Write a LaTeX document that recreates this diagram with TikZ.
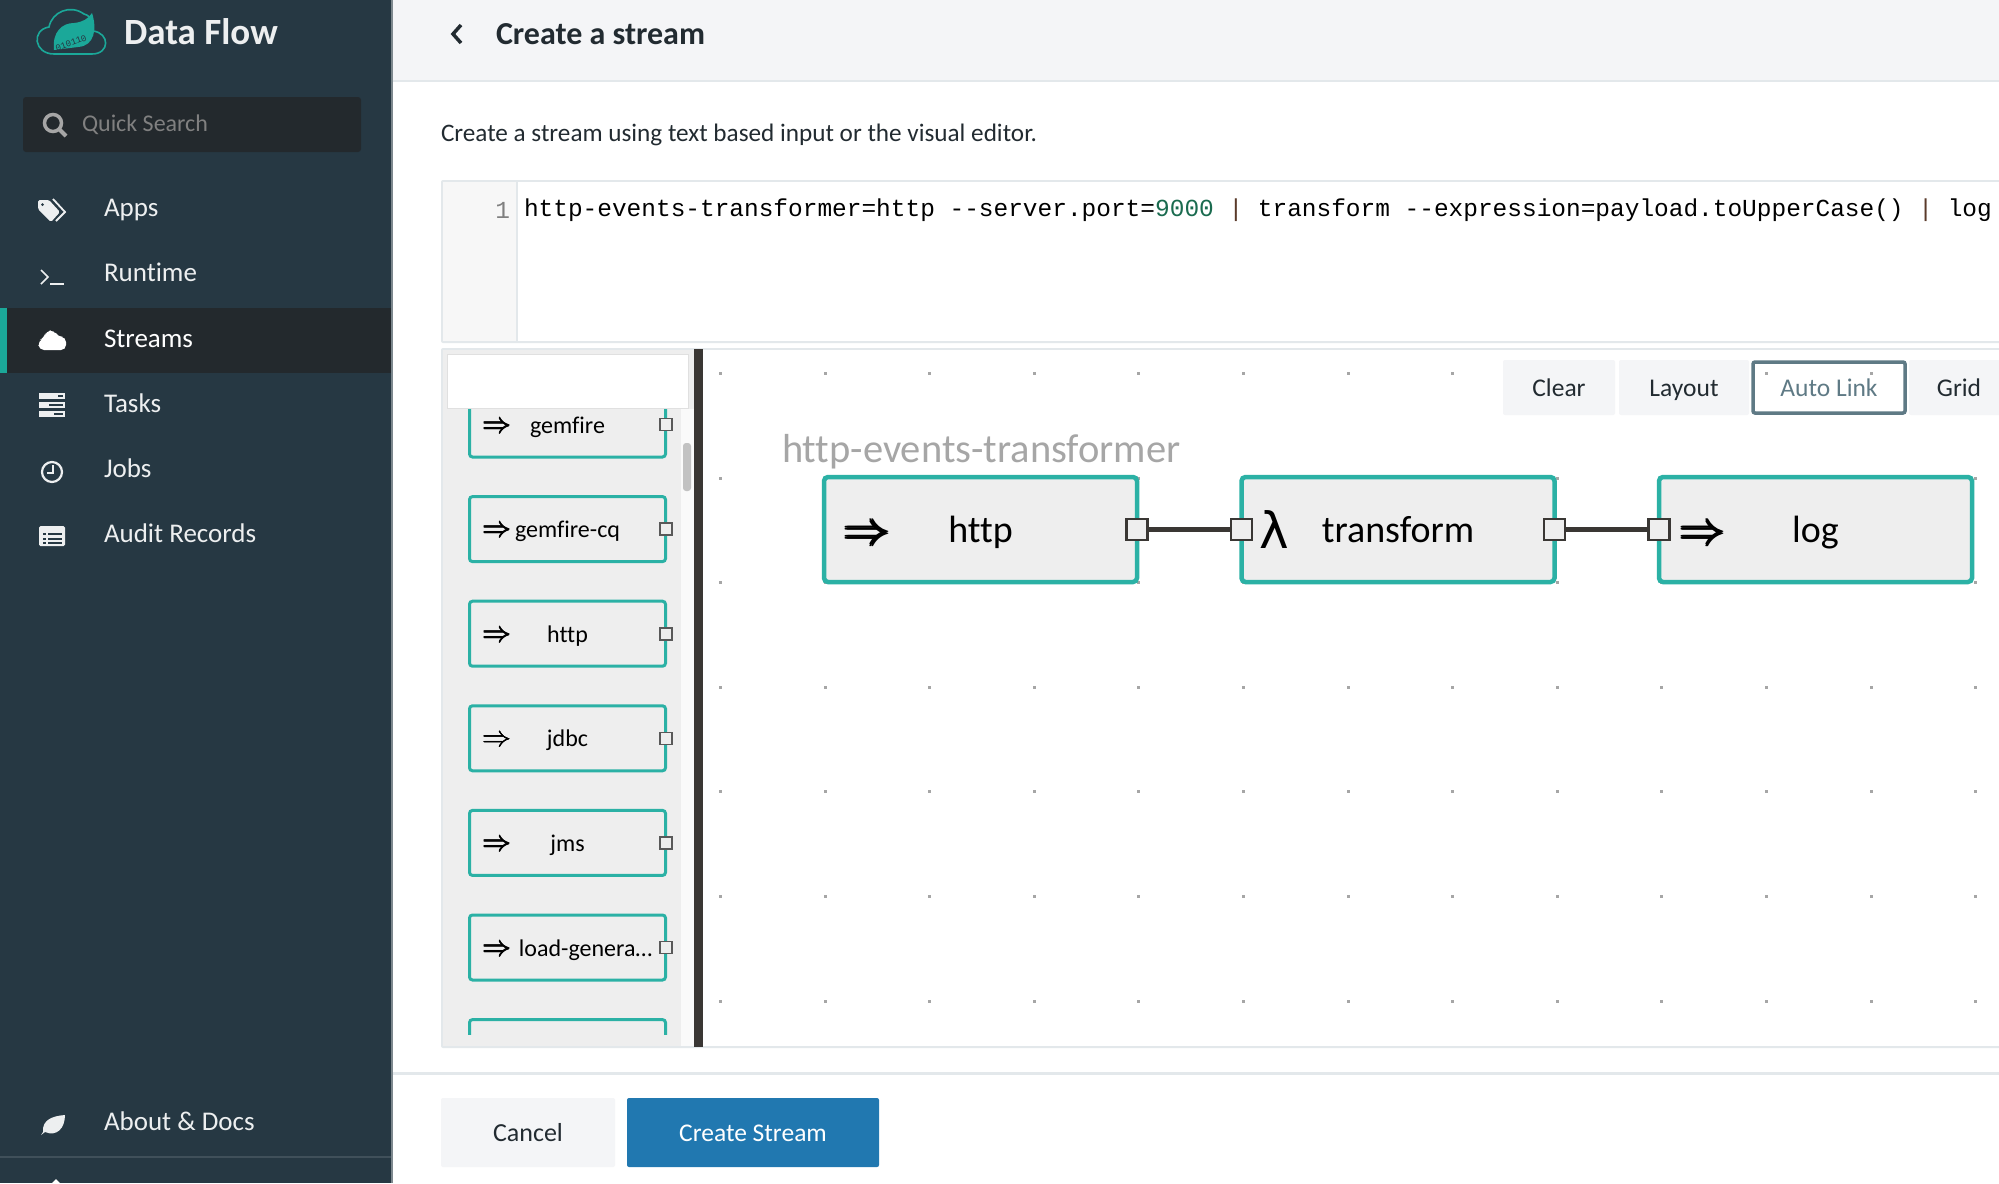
\documentclass[tikz,border=0pt]{standalone}
\usepackage{fontspec}
\setmainfont{Carlito}[Ligatures=NoCommon]
\setmonofont{Liberation Mono}
\newfontfamily\lambdafont{DejaVu Sans}
\usetikzlibrary{positioning}
\definecolor{sidebar}{HTML}{263843}
\definecolor{sidedark}{HTML}{23292D}
\definecolor{teal}{HTML}{2BB1A5}
\definecolor{logoteal}{HTML}{1BA899}
\definecolor{paper}{HTML}{F4F5F7}
\definecolor{rule}{HTML}{E3E8EB}
\definecolor{panel}{HTML}{EEEEEE}
\definecolor{ink}{HTML}{222B31}
\definecolor{menuink}{HTML}{EDEFF0}
\definecolor{linkdark}{HTML}{3A3734}
\definecolor{slate}{HTML}{5F7A85}
\definecolor{bluebtn}{HTML}{2178B0}
\newcommand{\fsz}[1]{\fontsize{#1}{#1}\selectfont}
\newcommand{\thickarrow}{\rlap{\raisebox{.15pt}{$\Rightarrow$}}\rlap{\raisebox{-.15pt}{$\Rightarrow$}}\kern.3pt\rlap{\raisebox{.15pt}{$\Rightarrow$}}\raisebox{-.15pt}{$\Rightarrow$}}

\begin{document}
\begin{tikzpicture}[x=1pt,y=-1pt,
  every node/.style={outer sep=0pt,inner sep=0pt},
  menuitem/.style={anchor=west,text=menuink,font=\fsz{27},text height=22pt,text depth=5.4pt},
  iconfill/.style={fill=menuink,draw=none},
  toolbtn/.style={fill=paper,rounded corners=2pt,minimum height=55pt,text=ink,font=\fsz{25.5},text height=22pt,text depth=5pt},
  dragnode/.style={draw=teal,line width=3pt,fill=panel,rounded corners=3pt,minimum width=196pt,minimum height=65pt,font=\fsz{24},text=black,text height=22pt,text depth=5pt},
  flownode/.style={draw=teal,line width=4.5pt,fill=panel,rounded corners=4pt,minimum width=313pt,minimum height=105pt,font=\fsz{38},text=black,text height=34pt,text depth=7.4pt},
  dragport/.style={draw=black!65,line width=1.6pt,fill=panel,minimum size=12pt},
  flowport/.style={draw=linkdark,line width=2.2pt,fill=panel,minimum size=21pt},
  link/.style={draw=linkdark,line width=5pt},
  griddot/.style={fill=black!35,draw=none}]
  \useasboundingbox (0,0) rectangle (1999,1183);
  \fill[white] (0,0) rectangle (1999,1183);

  % sidebar
  \fill[sidebar] (0,0) rectangle (392,1183);
  \fill[sidedark] (0,308) rectangle (392,373);
  \fill[logoteal] (0,308) rectangle (7,373);
  \draw[white!12!sidebar,line width=1.5pt] (0,1157) -- (392,1157);

  % logo
  \draw[logoteal,line width=1.6pt] (54,54) .. controls (34,54) and (31,30) .. (49,27)
    .. controls (52,12) and (70,4) .. (84,14) .. controls (92,16) and (94,24) .. (93,31)
    .. controls (110,33) and (110,54) .. (92,54) -- cycle;
  \fill[logoteal] (54,50) .. controls (52,32) and (62,23) .. (74,23)
    .. controls (83,22) and (88,19) .. (92,13) .. controls (97,28) and (95,46) .. (78,47) -- cycle;
  \node[rotate=20,text=sidebar,font=\ttfamily\fsz{9}] (logobits) at (71,43) {010110};
  \node[anchor=west,text=menuink,font=\bfseries\fsz{37}] (brand) at (124,32) {Data Flow};

  % search box
  \node[fill=sidedark,rounded corners=3pt,minimum width=338pt,minimum height=55pt] (searchbox) at (192,124.5) {};
  \draw[black!35!white,line width=3.5pt] (53,123) circle (8.5pt);
  \draw[black!35!white,line width=4pt] (59.5,129.5) -- (66,136);
  \node[anchor=west,text=black!50!white,font=\fsz{24},text height=18pt,text depth=6pt] (searchtext) at (82,125.5) {Quick Search};

  % menu
  \node[menuitem] (apps) at (104,208) {Apps};
  \node[menuitem] (runtime) at (104,273) {Runtime};
  \node[menuitem,text=white] (streams) at (104,339) {Streams};
  \node[menuitem] (tasks) at (104,404) {Tasks};
  \node[menuitem] (jobs) at (104,469) {Jobs};
  \node[menuitem] (audit) at (104,534) {Audit Records};
  \node[menuitem] (about) at (104,1122) {About \& Docs};

  % menu icons
  \fill[iconfill,rounded corners=1.5pt] (38,200) -- (49,200) -- (60,212) -- (51,222) -- (38,209) -- cycle;
  \fill[sidebar] (42.5,204.5) circle (1.5pt);
  \draw[menuink,line width=1.8pt] (53,199) -- (65,212) -- (56,221);
  \draw[menuink,line width=1.5pt] (41,270) -- (48,277) -- (41,284);
  \draw[menuink,line width=1.5pt] (50,284) -- (64,284);
  \fill[white,rounded corners=5pt] (39,350) -- (66,350) -- (66,337) -- (58,337) -- (54,330) -- (46,331) -- (44,338) -- (38,341) -- cycle;
  \foreach \y in {396,405,414} {
    \fill[iconfill] (39,\y-3) rectangle (65,\y+3);
  }
  \fill[sidebar] (58,395) rectangle (63,397);
  \fill[sidebar] (49,404) rectangle (63,406);
  \fill[sidebar] (54,413) rectangle (63,415);
  \draw[menuink,line width=2.2pt] (52,472) circle (10pt);
  \draw[menuink,line width=1.8pt] (53,465) -- (53,473) -- (47,473);
  \fill[iconfill,rounded corners=1.5pt] (39,526) rectangle (65,546);
  \foreach \y in {534,538.5,543} {
    \fill[sidebar] (43,\y-1) rectangle (46,\y+1);
    \fill[sidebar] (48,\y-1) rectangle (62,\y+1);
  }
  \fill[iconfill] (43,1132) .. controls (42,1120) and (52,1116) .. (65,1115) .. controls (65,1128) and (57,1137) .. (45,1132) -- (41,1135) -- cycle;
  \fill[white] (52,1183) -- (56,1179) -- (60,1183) -- cycle;

  % header
  \fill[white!40!sidebar] (391,0) rectangle (392.5,1183);
  \fill[paper] (392.5,0) rectangle (1999,81);
  \draw[rule,line width=1.5pt] (392.5,81) -- (1999,81);
  \draw[ink,line width=3.5pt] (461,25) -- (453,34) -- (461,43);
  \node[anchor=west,text=ink,font=\bfseries\fsz{32}] (pagetitle) at (496,34) {Create a stream};
  \node[anchor=west,text=ink,font=\fsz{25.2},text height=19pt,text depth=6pt] (subtitle) at (441,135) {Create a stream using text based input or the visual editor.};

  % text editor
  \fill[rule,rounded corners=2pt] (441,180) rectangle (2010,343);
  \fill[white] (442.5,182) rectangle (2010,341);
  \fill[black!3] (442.5,182) rectangle (516,341);
  \fill[rule] (516,182) rectangle (517.5,341);
  \node[anchor=east,text=black!50,font=\ttfamily\fsz{24.46}] (linenum) at (510,210) {1};
  \node[anchor=west,text=black,font=\ttfamily\fsz{24.46}] (codeline) at (524,210.5) {http-events-transformer=http --server.port={\color[HTML]{1A6B4F}9000} {\color[HTML]{5A3A2A}|} transform --expression=payload.toUpperCase() {\color[HTML]{5A3A2A}|} log};

  % canvas
  \fill[rule,rounded corners=2pt] (441,348) rectangle (2010,1048);
  \fill[white] (703,350) rectangle (2010,1046);
  \foreach \i in {0,...,12} {
    \foreach \j in {0,...,6} {
      \fill[griddot] (720.5+104.6*\i-1.5,373.5+104.6*\j-1.5) rectangle ++(3,3);
    }
  }
  \node[toolbtn,minimum width=112pt] (clear) at (1559,387.5) {Clear};
  \node[toolbtn,minimum width=130pt] (layout) at (1684,387.5) {Layout};
  \node[draw=slate,line width=3.5pt,rounded corners=2pt,minimum width=152pt,minimum height=51pt,text=slate,font=\fsz{25.5},text height=22pt,text depth=5pt] (autolink) at (1829,387.5) {Auto Link};
  \node[toolbtn,minimum width=100pt] (grid) at (1959,387.5) {Grid};

  % palette
  \fill[panel] (442.5,350) rectangle (695,1046);
  \fill[black!2] (681,409) rectangle (695,1046);
  \fill[black!24,rounded corners=3pt] (683,443) rectangle (691,491);
  \fill[linkdark] (694,349) rectangle (703,1047);
  \begin{scope}
    \clip (442,400) rectangle (681,1034);
    \node[dragnode] (gemfire) at (567.5,424.5) {gemfire};
    \node[dragnode,below = 39.6pt of gemfire] (gemfirecq) {gemfire-cq};
    \node[dragnode,below = 39.6pt of gemfirecq] (httpitem) {http};
    \node[dragnode,below = 39.6pt of httpitem] (jdbc) {jdbc};
    \node[dragnode,below = 39.6pt of jdbc] (jms) {jms};
    \node[dragnode,below = 39.6pt of jms] (loadgen) {\hspace*{36pt}load-genera\ldots};
    \node[dragnode,below = 39.6pt of loadgen] (nextitem) {};
    \foreach \n in {gemfire,gemfirecq,httpitem,jdbc,jms,loadgen} {
      \node[dragport,xshift=0.5pt] (\n port) at (\n.east) {};
      \node[scale=2.9,yshift=-1pt] (\n arrow) at ([xshift=-70.5pt]\n.center) {\thickarrow};
    }
  \end{scope}
  \node[fill=white,draw=black!12,line width=1pt,minimum width=241pt,minimum height=54pt] (paletteinput) at (568,381.5) {};

  % stream on the canvas
  \node[text=black!35,font=\fsz{40.5},anchor=west,text height=28pt,text depth=9pt] (streamname) at (782,453) {http-events-transformer};
  \node[flownode] (http) at (980.5,529.5) {http};
  \node[flownode,right = 104.5pt of http] (transform) {transform};
  \node[flownode,right = 104.5pt of transform] (log) {log};
  \node[scale=4.7] (httparrow) at (867,536) {\thickarrow};
  \node[font=\lambdafont\fsz{50},text=black] (translambda) at (1274.5,529) {λ};
  \node[scale=4.7] (logarrow) at (1702.5,536) {\thickarrow};
  \node[flowport] (httpout) at (http.east) {};
  \node[flowport] (transin) at (transform.west) {};
  \node[flowport] (transout) at (transform.east) {};
  \node[flowport] (login) at (log.west) {};
  \draw[link] (httpout) -- (transin);
  \draw[link] (transout) -- (login);

  % footer
  \fill[rule] (392.5,1072) rectangle (1999,1074.5);
  \node[fill=paper,rounded corners=2pt,minimum width=174pt,minimum height=69pt,text=ink,font=\fsz{26},text height=22pt,text depth=5pt] (cancel) at (528,1132.5) {Cancel};
  \node[fill=bluebtn,rounded corners=2pt,minimum width=252pt,minimum height=69pt,text=white,font=\fsz{25.5},text height=22pt,text depth=5pt,right = 12pt of cancel] (create) {Create Stream};
\end{tikzpicture}
\end{document}
